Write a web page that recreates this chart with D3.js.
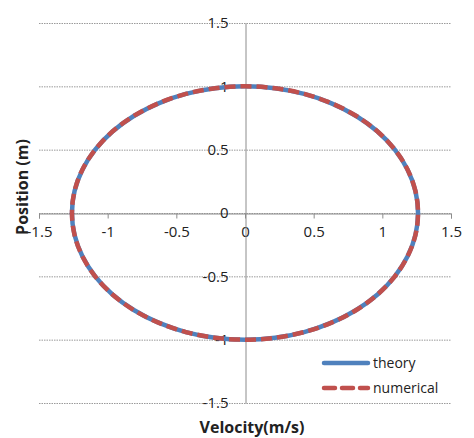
<!DOCTYPE html>
<html>
<head>
<meta charset="utf-8">
<script src="https://cdn.jsdelivr.net/npm/d3@7"></script>
<style>
  body { margin: 0; background: #fff; }
  text { font-family: "Open Sans", "Liberation Sans", sans-serif; fill: #222; }
</style>
</head>
<body>
<svg id="chart"></svg>
<script>
// ellipse points (10 degree steps)
const theoryX = [1.26, 1.241, 1.184, 1.091, 0.965, 0.81, 0.63, 0.431, 0.219, 0, -0.219, -0.431, -0.63, -0.81, -0.965, -1.091, -1.184, -1.241,
  -1.26, -1.241, -1.184, -1.091, -0.965, -0.81, -0.63, -0.431, -0.219, 0, 0.219, 0.431, 0.63, 0.81, 0.965, 1.091, 1.184, 1.241];
const theoryY = [0, 0.174, 0.342, 0.5, 0.643, 0.766, 0.866, 0.94, 0.985, 1, 0.985, 0.94, 0.866, 0.766, 0.643, 0.5, 0.342, 0.174,
  0, -0.174, -0.342, -0.5, -0.643, -0.766, -0.866, -0.94, -0.985, -1, -0.985, -0.94, -0.866, -0.766, -0.643, -0.5, -0.342, -0.174];
const numericalX = [1.26, 1.241, 1.184, 1.091, 0.965, 0.81, 0.63, 0.431, 0.219, 0, -0.219, -0.431, -0.63, -0.81, -0.965, -1.091, -1.184, -1.241,
  -1.26, -1.241, -1.184, -1.091, -0.965, -0.81, -0.63, -0.431, -0.219, 0, 0.219, 0.431, 0.63, 0.81, 0.965, 1.091, 1.184, 1.241];
const numericalY = [0, 0.174, 0.342, 0.5, 0.643, 0.766, 0.866, 0.94, 0.985, 1, 0.985, 0.94, 0.866, 0.766, 0.643, 0.5, 0.342, 0.174,
  0, -0.174, -0.342, -0.5, -0.643, -0.766, -0.866, -0.94, -0.985, -1, -0.985, -0.94, -0.866, -0.766, -0.643, -0.5, -0.342, -0.174];
const ticks = [-1.5, -1, -0.5, 0, 0.5, 1, 1.5];
const seriesNames = ['theory', 'numerical'];

const width = 474;
const height = 438;
const blue = '#4f81bd';
const red = '#c0504d';

const svg = d3.select('#chart')
  .attr('width', width)
  .attr('height', height);

const xScale = d3.scaleLinear().domain([-1.5, 1.5]).range([39, 451]);
const yScale = d3.scaleLinear().domain([-1.5, 1.5]).range([403, 23]);

// horizontal dotted gridlines
svg.append('g')
  .selectAll('line')
  .data(ticks)
  .enter()
  .append('line')
  .attr('x1', xScale(-1.5))
  .attr('x2', xScale(1.5))
  .attr('y1', d => yScale(d) + 0.5)
  .attr('y2', d => yScale(d) + 0.5)
  .attr('stroke', '#9a9a9a')
  .attr('stroke-width', 1)
  .attr('stroke-dasharray', '1.5,1');

// x axis through y = 0
const xAxis = d3.axisBottom(xScale)
  .tickValues(ticks)
  .tickFormat(d => d)
  .tickSize(5)
  .tickPadding(8);

const gx = svg.append('g')
  .attr('transform', `translate(0, ${yScale(0) + 0.5})`)
  .call(xAxis);
gx.select('.domain').attr('stroke', '#8c8c8c');
gx.selectAll('.tick line').attr('stroke', '#8c8c8c');
gx.selectAll('.tick text')
  .style('font-size', '15px')
  .attr('fill', '#222');

// y axis through x = 0
const yAxis = d3.axisLeft(yScale)
  .tickValues(ticks)
  .tickFormat(d => d)
  .tickSize(0)
  .tickPadding(17);

const gy = svg.append('g')
  .attr('transform', `translate(${xScale(0) + 0.5}, 0)`)
  .call(yAxis);
gy.select('.domain').attr('stroke', '#8c8c8c');
gy.selectAll('.tick text')
  .style('font-size', '15px')
  .attr('fill', '#222');

const line = d3.line()
  .x(d => xScale(d[0]))
  .y(d => yScale(d[1]))
  .curve(d3.curveCatmullRomClosed);

const theory = theoryX.map((x, i) => [x, theoryY[i]]);
const numerical = numericalX.map((x, i) => [x, numericalY[i]]);

svg.append('path')
  .datum(theory)
  .attr('d', line)
  .attr('fill', 'none')
  .attr('stroke', blue)
  .attr('stroke-width', 4.5);

svg.append('path')
  .datum(numerical)
  .attr('d', line)
  .attr('fill', 'none')
  .attr('stroke', red)
  .attr('stroke-width', 4.5)
  .attr('stroke-dasharray', '11,5');

// axis titles
svg.append('text')
  .attr('x', 252)
  .attr('y', 433)
  .attr('text-anchor', 'middle')
  .style('font-size', '16px')
  .style('font-weight', 'bold')
  .text('Velocity(m/s)');

svg.append('text')
  .attr('transform', 'translate(28, 187) rotate(-90)')
  .attr('text-anchor', 'middle')
  .style('font-size', '16px')
  .style('font-weight', 'bold')
  .text('Position (m)');

// legend
const legend = svg.append('g').attr('transform', 'translate(324, 363)');
const legendItems = legend.selectAll('g')
  .data(seriesNames)
  .enter()
  .append('g')
  .attr('transform', (d, i) => `translate(0, ${i * 25})`);

legendItems.append('line')
  .attr('x1', 0)
  .attr('x2', 44)
  .attr('stroke', (d, i) => i === 0 ? blue : red)
  .attr('stroke-width', 4.5)
  .attr('stroke-linecap', 'round')
  .attr('stroke-dasharray', (d, i) => i === 0 ? null : '11,7');

legendItems.append('text')
  .attr('x', 49)
  .attr('y', 5)
  .style('font-size', '14px')
  .text(d => d);
</script>
</body>
</html>
